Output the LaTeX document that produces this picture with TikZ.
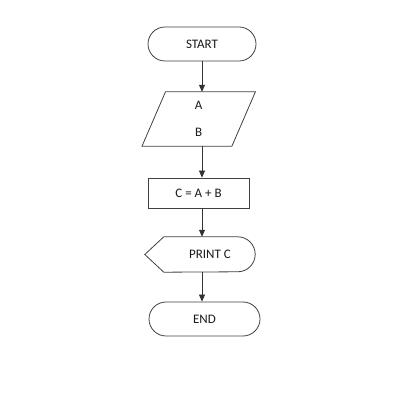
\documentclass[tikz,border=0pt]{standalone}
\usepackage{fontspec}
\setmainfont{Carlito}
\usepackage{tikz}
\usetikzlibrary{arrows.meta,calc}
\newcommand{\flowarrow}{-{Triangle[length=7pt,width=6pt]}}

\begin{document}
\begin{tikzpicture}[x=1pt,y=1pt,
        every node/.style={font=\fontsize{13}{16}\selectfont, text=black!90},
        box/.style={draw=black!75, line width=0.8pt},
        outline/.style={draw=black!75, line width=0.8pt},
        terminal/.style={box, rectangle, rounded corners=17pt, minimum height=34pt}]
                    \useasboundingbox (0,0) rectangle (408,412);
                    \node[terminal, minimum width=108pt] (start) at (202,368) {START};
                    \node[minimum width=113pt, minimum height=54pt, align=center,
                        font=\fontsize{13}{27}\selectfont] (input) at (198.7,293) {A\\B};
                    \node[box, minimum width=101pt, minimum height=30pt] (calc) at (198.5,219) {C = A + B};
                    \node[minimum width=110pt, minimum height=35pt,
                        label={[xshift=10pt]center:PRINT C}] (print) at (200,157.5) {};
                    \node[terminal, minimum width=111pt] (stop) at (204.5,93) {END};
                    % parallelogram round the input node
                    \draw[outline] (input.south west) -- ([xshift=23.5pt]input.north west)
                        -- (input.north east) -- ([xshift=-23.5pt]input.south east) -- cycle;
                    % display shape round the print node
                    \draw[outline] (print.west) -- ([xshift=19pt]print.north west)
                        -- ([xshift=-17.5pt]print.north east) arc (90:-90:17.5pt)
                        -- ([xshift=19pt]print.south west) -- cycle;
                    \draw[\flowarrow, draw=black!80, line width=0.8pt] (start.south) -- (start.south |- input.north);
                    \draw[\flowarrow, draw=black!80, line width=0.8pt] (start.south |- input.south) -- (start.south |- calc.north);
                    \draw[\flowarrow, draw=black!80, line width=0.8pt] (start.south |- calc.south) -- (start.south |- print.north);
                    \draw[\flowarrow, draw=black!80, line width=0.8pt] (start.south |- print.south) -- (start.south |- stop.north);
                \end{tikzpicture}
\end{document}
